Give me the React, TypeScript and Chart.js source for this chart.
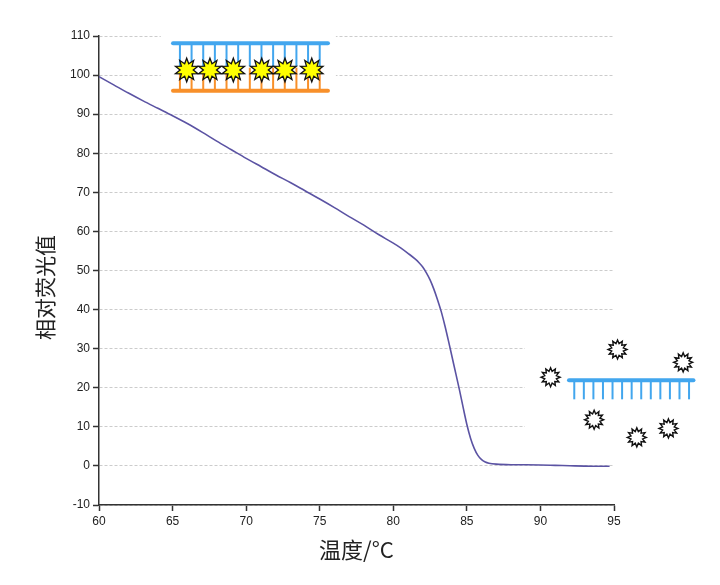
import { useEffect, useRef } from "react";
import { Chart, registerables } from "chart.js";

Chart.register(...registerables);

// Temperature (°C) samples along the melting curve
const temperatures = [
  60, 61, 62, 63, 64, 65, 66, 67, 68, 69, 70, 71, 72, 73, 74, 75, 76, 77, 78, 79,
  80, 80.5, 81, 81.5, 81.75, 82, 82.25, 82.5, 82.75, 83, 83.25, 83.5, 83.75, 84,
  84.25, 84.5, 84.75, 85, 85.25, 85.5, 85.75, 86, 86.25, 86.5, 87, 88, 89, 90,
  91, 92, 93, 94, 94.7,
];
// Relative fluorescence values
const fluorescence = [
  99.6, 97.5, 95.4, 93.4, 91.5, 89.6, 87.6, 85.4, 83.1, 80.9, 78.7, 76.6, 74.5,
  72.5, 70.4, 68.3, 66.1, 63.8, 61.6, 59.2, 57.0, 55.8, 54.4, 52.9, 52.0, 50.9,
  49.4, 47.6, 45.3, 42.6, 39.6, 36.0, 32.0, 27.8, 23.6, 19.4, 14.9, 10.6, 7.1,
  4.5, 2.7, 1.6, 1.0, 0.7, 0.45, 0.3, 0.28, 0.25, 0.15, 0.05, -0.05, -0.1,
  -0.1,
];
const xAxisTitle = "温度/°C";
const yAxisTitle = "相对荧光值";
const xRange = [60, 95];
const yRange = [-10, 110];

function drawStar(
  ctx: CanvasRenderingContext2D,
  cx: number,
  cy: number,
  spikes: number,
  rOuter: number,
  rInner: number,
  fill: string,
  stroke: string,
  lw: number
) {
  ctx.beginPath();
  for (let i = 0; i < spikes * 2; i++) {
    const r = i % 2 === 0 ? rOuter : rInner;
    const a = -Math.PI / 2 + (i * Math.PI) / spikes;
    const x = cx + r * Math.cos(a);
    const y = cy + r * Math.sin(a);
    if (i === 0) ctx.moveTo(x, y);
    else ctx.lineTo(x, y);
  }
  ctx.closePath();
  ctx.fillStyle = fill;
  ctx.fill();
  ctx.lineWidth = lw;
  ctx.strokeStyle = stroke;
  ctx.lineJoin = "miter";
  ctx.stroke();
}

const illustrationPlugin = {
  id: "illustrations",
  beforeDatasetsDraw(chart: any) {
    const ctx: CanvasRenderingContext2D = chart.ctx;
    const xs = chart.scales.x;
    const ys = chart.scales.y;
    const px = (v: number) => xs.getPixelForValue(v);
    const py = (v: number) => ys.getPixelForValue(v);
    const blue = "#42a6ee";
    const orange = "#f8902a";
    ctx.save();

    // ---- top: double strand with bright dyes ----
    ctx.fillStyle = "#ffffff";
    ctx.fillRect(px(64.2), py(111.5), px(76.1) - px(64.2), py(95.2) - py(111.5));
    const left = px(65.03);
    const right = px(75.56);
    const yBlue = py(108.13);
    const yOrange = py(96.0);
    const nTeeth = 13;
    const t0 = px(65.5);
    const t1 = px(75.0);
    ctx.lineCap = "butt";
    for (let i = 0; i < nTeeth; i++) {
      const x = t0 + ((t1 - t0) * i) / (nTeeth - 1);
      ctx.strokeStyle = blue;
      ctx.lineWidth = 2;
      ctx.beginPath();
      ctx.moveTo(x, yBlue);
      ctx.lineTo(x, yBlue + 23);
      ctx.stroke();
      ctx.strokeStyle = orange;
      ctx.beginPath();
      ctx.moveTo(x, yOrange);
      ctx.lineTo(x, yOrange - 23);
      ctx.stroke();
    }
    ctx.lineCap = "round";
    ctx.lineWidth = 4;
    ctx.strokeStyle = blue;
    ctx.beginPath();
    ctx.moveTo(left, yBlue);
    ctx.lineTo(right, yBlue);
    ctx.stroke();
    ctx.strokeStyle = orange;
    ctx.beginPath();
    ctx.moveTo(left, yOrange);
    ctx.lineTo(right, yOrange);
    ctx.stroke();
    const brightStars = [65.96, 67.54, 69.13, 71.06, 72.64, 74.46];
    const yStar = py(101.3);
    brightStars.forEach((sx) =>
      drawStar(ctx, px(sx), yStar, 10, 11.8, 6.6, "#ffff00", "#111111", 1.3)
    );

    // ---- right: single strand with free dyes ----
    ctx.fillStyle = "#ffffff";
    ctx.fillRect(px(88.95), py(33.2), 720 - px(88.95), py(3.5) - py(33.2));
    const rLeft = px(91.94);
    const rRight = px(100.4);
    const yR = py(21.9);
    const rt0 = px(92.3);
    const rt1 = px(100.1);
    ctx.lineCap = "butt";
    ctx.lineWidth = 2;
    ctx.strokeStyle = blue;
    for (let i = 0; i < nTeeth; i++) {
      const x = rt0 + ((rt1 - rt0) * i) / (nTeeth - 1);
      ctx.beginPath();
      ctx.moveTo(x, yR);
      ctx.lineTo(x, yR + 19);
      ctx.stroke();
    }
    ctx.lineCap = "round";
    ctx.lineWidth = 4;
    ctx.beginPath();
    ctx.moveTo(rLeft, yR);
    ctx.lineTo(rRight, yR);
    ctx.stroke();
    const freeStars: [number, number][] = [
      [90.69, 22.7],
      [95.24, 29.8],
      [99.7, 26.5],
      [93.65, 11.8],
      [96.55, 7.3],
      [98.7, 9.6],
    ];
    freeStars.forEach(([sx, sy]) =>
      drawStar(ctx, px(sx), py(sy), 12, 9.5, 6, "#ffffff", "#111111", 1.4)
    );
    ctx.restore();
  },
  afterDraw(chart: any) {
    const ctx: CanvasRenderingContext2D = chart.ctx;
    const area = chart.chartArea;
    ctx.save();
    ctx.translate(area.left - 54, (area.top + area.bottom) / 2 + 17);
    ctx.rotate(-Math.PI / 2);
    ctx.fillStyle = "#222222";
    ctx.font = '21px "Noto Sans CJK SC"';
    ctx.textAlign = "center";
    ctx.textBaseline = "middle";
    ctx.fillText(yAxisTitle, 0, 0);
    ctx.restore();
  },
};

export default function App() {
  const canvasRef = useRef<HTMLCanvasElement | null>(null);

  useEffect(() => {
    if (!canvasRef.current) return;
    const points = temperatures.map((t, i) => ({ x: t, y: fluorescence[i] }));
    const tickFont = { family: '"Liberation Sans", Arial, sans-serif', size: 12 };
    const chart = new Chart(canvasRef.current, {
      type: "line",
      data: {
        datasets: [
          {
            label: yAxisTitle,
            data: points,
            borderColor: "#5b53a3",
            borderWidth: 1.6,
            pointRadius: 0,
            fill: false,
            cubicInterpolationMode: "monotone",
          },
        ],
      },
      options: {
        animation: false,
        responsive: false,
        maintainAspectRatio: false,
        layout: { padding: { left: 0, top: 36, right: 106, bottom: 0 } },
        plugins: {
          legend: { display: false },
          tooltip: { enabled: false },
        },
        scales: {
          x: {
            type: "linear",
            min: xRange[0],
            max: xRange[1],
            ticks: { stepSize: 5, color: "#222222", font: tickFont, padding: 3 },
            grid: {
              drawOnChartArea: false,
              drawTicks: true,
              tickLength: 6,
              tickColor: "#333333",
              tickWidth: 1.5,
            },
            border: { display: true, color: "#333333", width: 1.5 },
            title: {
              display: true,
              text: xAxisTitle,
              color: "#222222",
              font: { family: '"Noto Sans CJK SC"', size: 22 },
              padding: { top: 0, bottom: 22 },
            },
            afterFit: (scale: any) => {
              scale.height = 80;
            },
          },
          y: {
            type: "linear",
            min: yRange[0],
            max: yRange[1],
            ticks: { stepSize: 10, color: "#222222", font: tickFont, padding: 3 },
            grid: {
              color: "#cccccc",
              lineWidth: 1,
              drawTicks: true,
              tickLength: 6,
              tickColor: "#333333",
              tickWidth: 1.5,
            },
            border: { display: true, color: "#333333", width: 1.5, dash: [3, 2] },
            afterFit: (scale: any) => {
              scale.width = 99;
            },
          },
        },
      },
      plugins: [illustrationPlugin],
    } as any);
    return () => chart.destroy();
  }, []);

  return (
    <div style={{ position: "fixed", left: 0, top: 0, width: 720, height: 585, background: "#fff" }}>
      <canvas ref={canvasRef} width={720} height={585} style={{ width: 720, height: 585 }} />
    </div>
  );
}
